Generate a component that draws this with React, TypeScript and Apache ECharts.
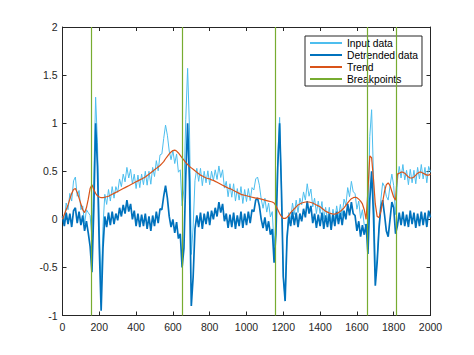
import React, { useEffect, useRef } from "react";
import * as echarts from "echarts";

const SAMPLE_STEP = 10;

// Detrended data, one value every 10 samples (0..2000)
const DETRENDED: number[] = [
  0.03, -0.07, 0.07, -0.05, 0.06, -0.08, 0.09, 0.12, -0.04, 0.08,
  -0.06, 0.04, -0.12, -0.02, -0.14, -0.28, -0.55, 0.1, 1.0, 0.55,
  -0.3, -0.95, -0.3, 0.03, -0.08, 0.07, -0.06, 0.08, -0.05, 0.06,
  -0.01, 0.12, 0.03, 0.15, 0.06, 0.2, 0.08, 0.16, 0.0, 0.09,
  -0.07, 0.06, -0.08, 0.05, -0.07, 0.06, -0.1, 0.03, -0.12, 0.04,
  -0.07, 0.08, -0.04, 0.11, 0.1, 0.24, 0.35, 0.22, 0.03, -0.08,
  0.0, -0.14, -0.03, -0.2, -0.15, -0.5, -0.3, 0.45, 1.0, 0.4,
  -0.9, -0.6, -0.1, 0.04, -0.08, 0.07, -0.1, 0.06, -0.05, 0.08,
  -0.06, 0.09, 0.0, 0.12, 0.03, 0.18, 0.07, 0.16, -0.02, 0.06,
  -0.09, 0.05, -0.08, 0.07, -0.1, 0.04, -0.07, 0.08, -0.09, 0.06,
  -0.06, 0.08, -0.04, 0.1, 0.08, 0.2, 0.22, 0.14, 0.0, -0.09,
  0.02, -0.12, -0.02, -0.16, -0.1, -0.45, -0.15, 0.55, 1.0, 0.3,
  -0.6, -0.85, -0.2, 0.03, -0.07, 0.08, -0.06, 0.07, -0.08, 0.06,
  -0.02, 0.11, 0.02, 0.19, 0.06, 0.14, -0.04, 0.06, -0.09, 0.05,
  -0.07, 0.07, -0.1, 0.04, -0.08, 0.06, -0.11, 0.05, -0.07, 0.08,
  -0.05, 0.07, -0.06, 0.09, 0.0, 0.16, 0.04, 0.18, 0.06, 0.04,
  -0.12, -0.02, -0.18, -0.06, -0.16, -0.05, -0.36, 0.2, 0.5, 0.05,
  -0.69, -0.45, -0.1, 0.12, 0.2, 0.05, -0.12, -0.18, 0.0, 0.18,
  0.12, -0.15, -0.07, 0.07, -0.06, 0.08, -0.07, 0.05, -0.08, 0.09,
  -0.05, 0.07, -0.09, 0.06, -0.07, 0.08, -0.06, 0.07, -0.08, 0.09,
  0.02,
];

// Trend, one value every 10 samples (0..2000)
const TREND: number[] = [
  0.0, 0.05, 0.1, 0.15, 0.21, 0.27, 0.31, 0.32, 0.28, 0.22,
  0.16, 0.1, 0.07, 0.12, 0.21, 0.32, 0.36, 0.31, 0.27, 0.245,
  0.232, 0.225, 0.225, 0.23, 0.235, 0.24, 0.25, 0.26, 0.27, 0.28,
  0.29, 0.3, 0.31, 0.32, 0.33, 0.34, 0.35, 0.36, 0.37, 0.38,
  0.39, 0.4, 0.41, 0.42, 0.43, 0.44, 0.455, 0.47, 0.485, 0.5,
  0.515, 0.53, 0.545, 0.56, 0.58, 0.6, 0.63, 0.655, 0.68, 0.7,
  0.715, 0.72, 0.71, 0.69, 0.665, 0.64, 0.615, 0.59, 0.57, 0.55,
  0.535, 0.52, 0.505, 0.49, 0.475, 0.46, 0.45, 0.44, 0.43, 0.425,
  0.42, 0.41, 0.405, 0.395, 0.385, 0.375, 0.365, 0.355, 0.345, 0.335,
  0.325, 0.32, 0.31, 0.3, 0.29, 0.28, 0.27, 0.26, 0.255, 0.25,
  0.245, 0.24, 0.235, 0.23, 0.225, 0.22, 0.22, 0.215, 0.21, 0.205,
  0.2, 0.195, 0.19, 0.185, 0.18, 0.17, 0.14, 0.1, 0.06, 0.03,
  0.01, 0.01, 0.02, 0.04, 0.07, 0.09, 0.11, 0.13, 0.15, 0.16,
  0.17, 0.175, 0.18, 0.18, 0.18, 0.175, 0.17, 0.16, 0.15, 0.14,
  0.13, 0.115, 0.1, 0.085, 0.075, 0.065, 0.06, 0.055, 0.055, 0.06,
  0.07, 0.085, 0.1, 0.12, 0.145, 0.17, 0.195, 0.215, 0.225, 0.23,
  0.225, 0.21, 0.19, 0.16, 0.1, 0.0, 0.3, 0.66, 0.64, 0.42,
  0.16, 0.03, 0.02, 0.08, 0.18, 0.29, 0.36, 0.38, 0.35, 0.29,
  0.23, 0.2, 0.47, 0.48, 0.49, 0.49, 0.48, 0.46, 0.44, 0.43,
  0.43, 0.44, 0.46, 0.48, 0.49, 0.49, 0.48, 0.47, 0.46, 0.46,
  0.47,
];

const BREAKPOINTS: number[] = [155, 652, 1157, 1655, 1816];

const X_MIN = 0;
const X_MAX = 2000;
const X_INTERVAL = 200;
const Y_MIN = -1;
const Y_MAX = 2;
const Y_INTERVAL = 0.5;

const SERIES_NAMES = ["Input data", "Detrended data", "Trend", "Breakpoints"];

const FONT = "'Liberation Sans', Arial, Helvetica, sans-serif";
const AXIS_COLOR = "#262626";

export default function App() {
  const ref = useRef<HTMLDivElement>(null);

  useEffect(() => {
    if (!ref.current) return;
    const chart = echarts.init(ref.current, null, { renderer: "svg" });

    const xs = TREND.map((_, i) => i * SAMPLE_STEP);
    const trendData = xs.map((x, i) => [x, TREND[i]]);
    const detData = xs.map((x, i) => [x, DETRENDED[i]]);
    const inputData = xs.map((x, i) => [x, +(TREND[i] + DETRENDED[i]).toFixed(4)]);

    const axisBase = {
      type: "value" as const,
      axisLine: { show: true, onZero: false, lineStyle: { color: AXIS_COLOR, width: 1 } },
      axisTick: { show: true, inside: true, length: 4, lineStyle: { color: AXIS_COLOR, width: 1 } },
      splitLine: { show: false },
    };

    const lineBase = {
      type: "line" as const,
      showSymbol: false,
      symbol: "none",
      emphasis: { disabled: true },
      silent: true,
      xAxisIndex: 0,
      yAxisIndex: 0,
    };

    chart.setOption({
      animation: false,
      grid: { left: 62.5, right: 43.5, top: 27, bottom: 39.5, containLabel: false },
      xAxis: [
        {
          ...axisBase,
          position: "bottom",
          min: X_MIN,
          max: X_MAX,
          interval: X_INTERVAL,
          axisLabel: {
            color: AXIS_COLOR,
            fontSize: 10.5,
            fontFamily: FONT,
            margin: 6,
            formatter: (v: number) => String(v),
          },
        },
        {
          ...axisBase,
          position: "top",
          min: X_MIN,
          max: X_MAX,
          interval: X_INTERVAL,
          axisLabel: { show: false },
        },
      ],
      yAxis: [
        {
          ...axisBase,
          position: "left",
          min: Y_MIN,
          max: Y_MAX,
          interval: Y_INTERVAL,
          axisLabel: { color: AXIS_COLOR, fontSize: 10.5, fontFamily: FONT, margin: 5 },
        },
        {
          ...axisBase,
          position: "right",
          min: Y_MIN,
          max: Y_MAX,
          interval: Y_INTERVAL,
          axisLabel: { show: false },
        },
      ],
      legend: {
        orient: "vertical",
        left: 305,
        top: 36,
        itemWidth: 32,
        itemHeight: 10,
        itemGap: 2,
        padding: [2, 4, 2, 4],
        backgroundColor: "#ffffff",
        borderColor: AXIS_COLOR,
        borderWidth: 1,
        borderRadius: 0,
        selectedMode: false,
        itemStyle: { opacity: 0 },
        textStyle: { color: "#000000", fontSize: 10.3, fontFamily: FONT },
        data: SERIES_NAMES,
      },
      series: [
        {
          ...lineBase,
          name: SERIES_NAMES[0],
          data: inputData,
          lineStyle: { color: "#4DBEEE", width: 1 },
          itemStyle: { color: "#4DBEEE" },
        },
        {
          ...lineBase,
          name: SERIES_NAMES[1],
          data: detData,
          lineStyle: { color: "#0072BD", width: 1.7 },
          itemStyle: { color: "#0072BD" },
        },
        {
          ...lineBase,
          name: SERIES_NAMES[2],
          data: trendData,
          lineStyle: { color: "#D95319", width: 1.2 },
          itemStyle: { color: "#D95319" },
        },
        {
          ...lineBase,
          name: SERIES_NAMES[3],
          data: [],
          lineStyle: { color: "#77AC30", width: 1 },
          itemStyle: { color: "#77AC30" },
          markLine: {
            silent: true,
            symbol: ["none", "none"],
            label: { show: false },
            emphasis: { disabled: true },
            lineStyle: { color: "#77AC30", width: 1.2, type: "solid" },
            data: BREAKPOINTS.map((b) => ({ xAxis: b })),
          },
        },
      ],
    });

    return () => {
      chart.dispose();
    };
  }, []);

  return (
    <div
      ref={ref}
      style={{ position: "absolute", left: 0, top: 0, width: 474, height: 355 }}
    />
  );
}
